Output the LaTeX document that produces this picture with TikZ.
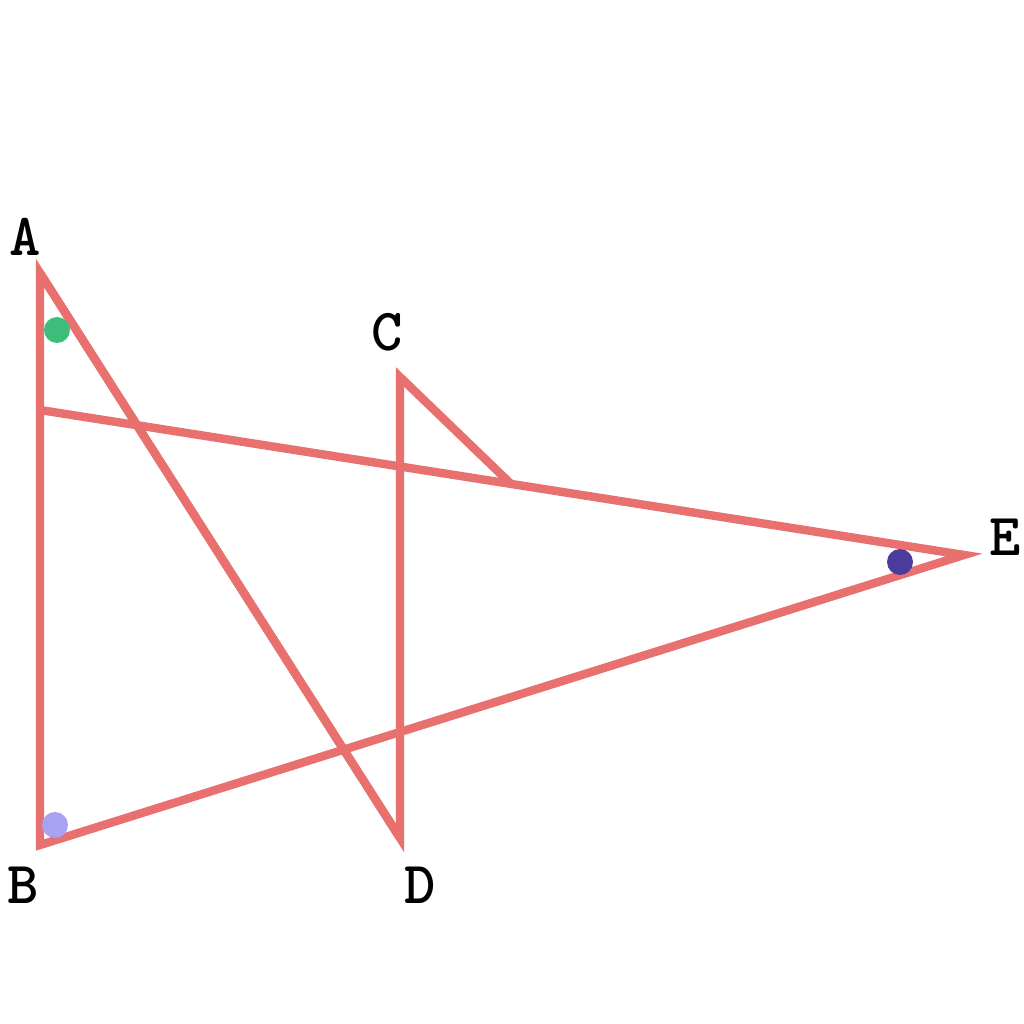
\documentclass[tikz,border=0pt]{standalone}
\definecolor{edgered}{HTML}{E8716F}
\definecolor{dotgreen}{HTML}{3DBE7A}
\definecolor{dotlilac}{HTML}{A9A1F2}
\definecolor{dotpurple}{HTML}{4B3B9C}
\begin{document}
\begin{tikzpicture}[every node/.style={font=\ttfamily\bfseries\fontsize{17}{17}\selectfont},
    seg/.style={draw=edgered, line width=2.4pt, line join=miter},
    dot/.style={circle, fill=#1, inner sep=0pt, minimum size=0.26cm}]
        \useasboundingbox (0,0) rectangle (10.24,10.24);
        \coordinate (A) at (0.40,7.51);
        \coordinate (B) at (0.40,1.79);
        \coordinate (C) at (4.00,6.47);
        \coordinate (D) at (4.00,1.86);
        \coordinate (E) at (9.64,4.69);
        \coordinate (F) at (0.40,6.14);
        \coordinate (G) at (5.10,5.41);

        \draw[seg] (D) -- (A) -- (B) -- (E) -- (F);
        \draw[seg] (G) -- (C) -- (D) -- (A);

        \node[dot=dotgreen] (angA) at (0.57,6.94) {};
        \node[dot=dotlilac] (angB) at (0.55,1.99) {};
        \node[dot=dotpurple] (angE) at (9.00,4.62) {};

        \node (labA) at (0.25,7.87) {A};
        \node (labB) at (0.23,1.39) {B};
        \node (labC) at (3.87,6.92) {C};
        \node (labD) at (4.20,1.39) {D};
        \node (labE) at (10.05,4.87) {E};
    \end{tikzpicture}
\end{document}
